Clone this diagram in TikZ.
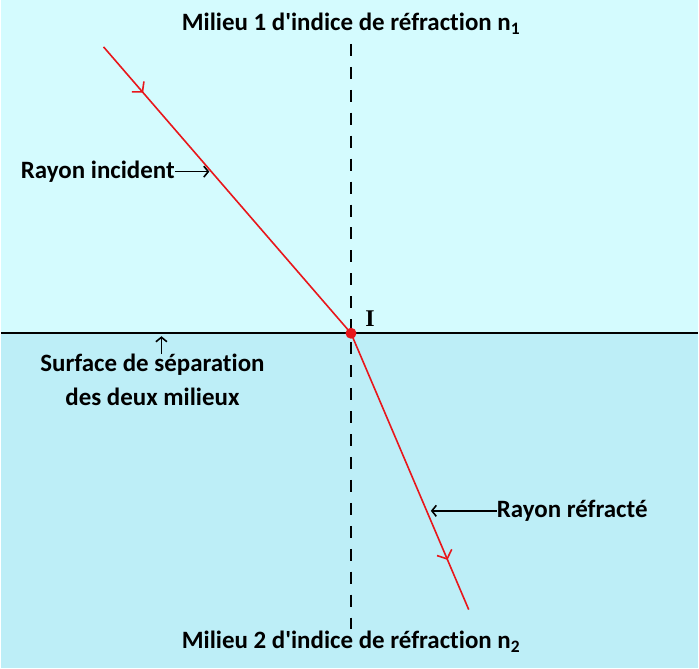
\documentclass[tikz,border=0pt]{standalone}
\usepackage{fontspec}
\setmainfont{Carlito}[Ligatures={NoCommon}]
\newfontfamily\pointfont{Liberation Serif}
\usetikzlibrary{arrows.meta,decorations.markings}

\begin{document}
\begin{tikzpicture}[x=1pt, y=-1pt,
  lbl/.style={font=\fontsize{25}{34}\selectfont\bfseries, inner sep=0pt},
  ray/.style={col, line width=1.6pt},
  pointer/.style={-{Straight Barb[length=4.5pt,width=11pt]}, line width=1.6pt}]
\definecolor{top}{HTML}{D4FBFE}
\definecolor{bot}{HTML}{BDEEF7}
\definecolor{col}{HTML}{E8161B}
\fill[top] (0,0) rectangle (699,334);
\fill[bot] (0,334) rectangle (699,670);
\coordinate (sL) at (0,334);
\coordinate (sR) at (699,334);
\coordinate (I) at (351,334);
\coordinate (nTop) at (351,44);
\coordinate (nBot) at (351,630);
\coordinate (A) at (103,47);
\coordinate (B) at (469,611);
\draw[line width=1.6pt] (sL) -- (sR);
\draw[line width=1.2pt, dash pattern=on 12pt off 11pt] (nTop) -- (nBot);
\draw[ray, postaction={decorate}, decoration={markings,
  mark=at position 0.16 with {\arrow{Straight Barb[length=7pt,width=16pt]}}}] (A) -- (I);
\draw[ray, postaction={decorate}, decoration={markings,
  mark=at position 0.82 with {\arrow{Straight Barb[length=7pt,width=16pt]}}}] (I) -- (B);
\fill[col] (I) circle (5.5);
\node[font=\fontsize{24}{26}\pointfont\bfseries, inner sep=0pt] (Ilbl) at (370,319) {I};
% labels
\node[lbl] (milieu1) at (351,24) {Milieu 1 d\textquotesingle indice de réfraction n\textsubscript{1}};
\node[lbl] (milieu2) at (351,643) {Milieu 2 d\textquotesingle indice de réfraction n\textsubscript{2}};
\node[lbl, anchor=west] (inc) at (20,172) {Rayon incident};
\coordinate (incTip) at (209,172);
\draw[pointer] (inc.east) -- (incTip);
\node[lbl, anchor=west] (refr) at (497,512) {Rayon réfracté};
\coordinate (refrTip) at (431,512);
\draw[pointer] (refr.west) -- (refrTip);
\node[lbl, align=center, anchor=north] (surf) at (152,355) {Surface de séparation\\des deux milieux};
\coordinate (surfTip) at (161,337);
\draw[pointer] (surfTip |- surf.north) -- (surfTip);
\end{tikzpicture}
\end{document}
